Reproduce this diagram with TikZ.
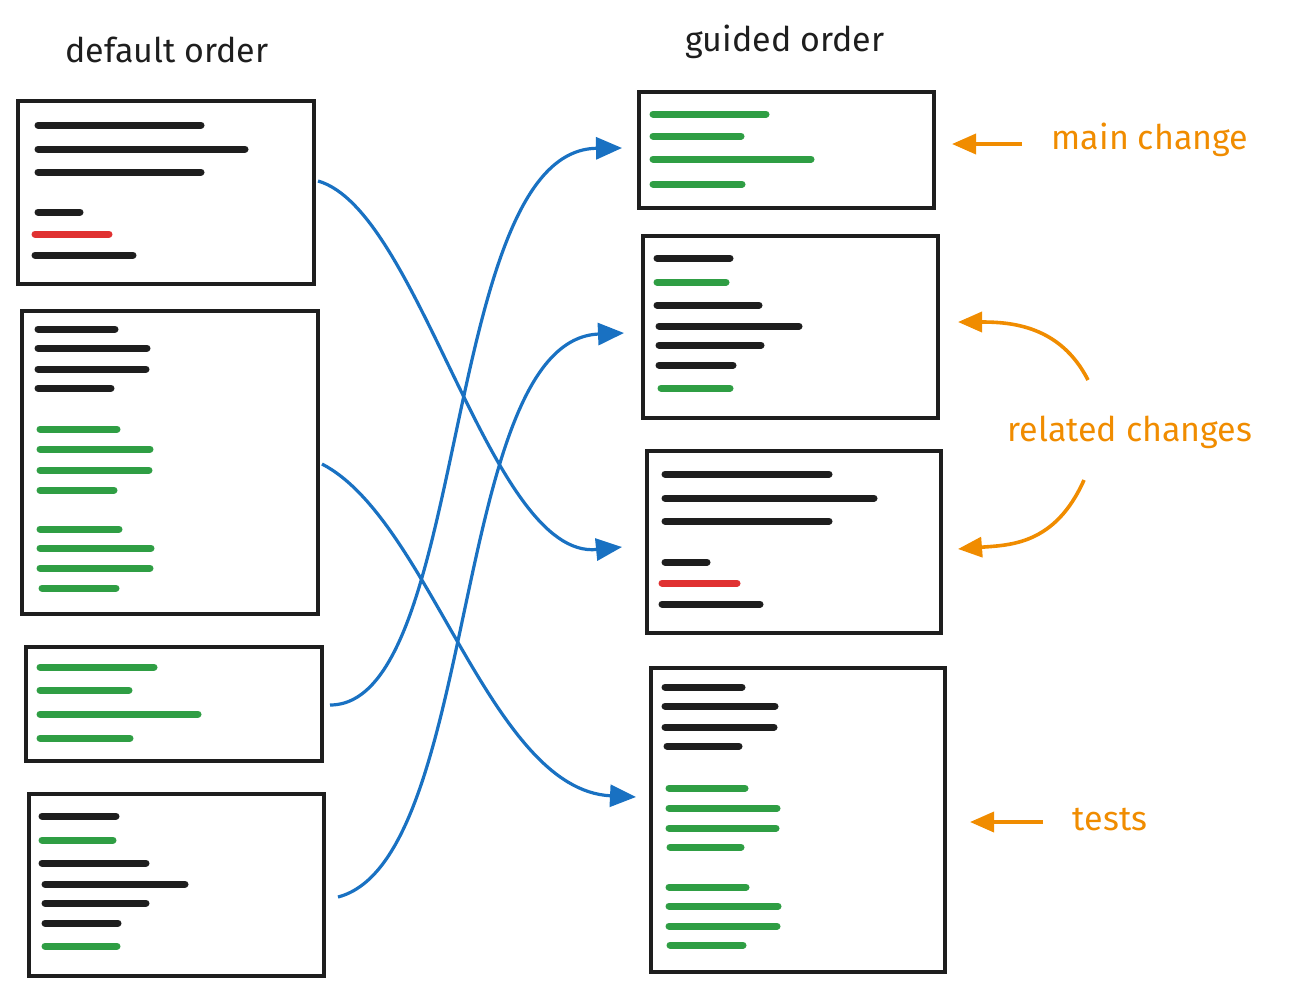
\documentclass[tikz,border=0pt]{standalone}
\usepackage{fontspec}
\setmainfont{Fira Sans}
\usetikzlibrary{arrows.meta}
\definecolor{ink}{HTML}{1E1E1E}
\definecolor{grn}{HTML}{2F9E44}
\definecolor{rd}{HTML}{E03131}
\definecolor{blu}{HTML}{1971C2}
\definecolor{org}{HTML}{F08C00}
\begin{document}
\begin{tikzpicture}[x=1pt,y=-1pt,
 box/.style={draw=ink,line width=3.2pt},
 k/.style={draw=ink,line width=7pt,line cap=round},
 g/.style={draw=grn,line width=7pt,line cap=round},
 r/.style={draw=rd,line width=7pt,line cap=round},
 con/.style={draw=blu,line width=3.2pt,-{Triangle[length=26pt,width=22pt]}},
 oa/.style={draw=org,line width=3.6pt,-{Triangle[length=24pt,width=20pt]}},
 ttl/.style={font=\fontsize{34}{38}\selectfont,text=ink},
 ot/.style={font=\fontsize{34}{38}\selectfont,text=org}]
\useasboundingbox (0,0) rectangle (1303,997);
\node[ttl] (t1) at (167,50) {default order};
\node[ttl] (t2) at (785,42) {guided order};
% left boxes
\draw[box] (18,101) rectangle (314,284);
\draw[k] (38,125)--(201,125); \draw[k] (38,149)--(245,149); \draw[k] (38,172)--(201,172);
\draw[k] (38,212)--(80,212); \draw[r] (35,234)--(109,234); \draw[k] (35,255)--(133,255);
\draw[box] (22,311) rectangle (318,614);
\draw[k] (38,329)--(115,329); \draw[k] (38,348)--(147,348); \draw[k] (38,369)--(146,369); \draw[k] (38,388)--(111,388);
\draw[g] (40,429)--(117,429); \draw[g] (40,449)--(150,449); \draw[g] (40,470)--(149,470); \draw[g] (40,490)--(114,490);
\draw[g] (40,529)--(119,529); \draw[g] (40,548)--(151,548); \draw[g] (40,568)--(150,568); \draw[g] (42,588)--(116,588);
\draw[box] (26,647) rectangle (322,761);
\draw[g] (40,667)--(154,667); \draw[g] (40,690)--(129,690); \draw[g] (40,714)--(198,714); \draw[g] (40,738)--(130,738);
\draw[box] (29,794) rectangle (324,976);
\draw[k] (42,816)--(116,816); \draw[g] (42,840)--(113,840); \draw[k] (42,863)--(146,863); \draw[k] (45,884)--(185,884);
\draw[k] (45,903)--(146,903); \draw[k] (45,923)--(118,923); \draw[g] (45,946)--(117,946);
% right boxes
\draw[box] (639,92) rectangle (934,208);
\draw[g] (653,114)--(766,114); \draw[g] (653,136)--(741,136); \draw[g] (653,159)--(811,159); \draw[g] (653,184)--(742,184);
\draw[box] (643,236) rectangle (938,418);
\draw[k] (657,258)--(730,258); \draw[g] (657,282)--(726,282); \draw[k] (657,305)--(759,305); \draw[k] (659,326)--(799,326);
\draw[k] (659,345)--(761,345); \draw[k] (659,365)--(733,365); \draw[g] (661,388)--(730,388);
\draw[box] (647,451) rectangle (941,633);
\draw[k] (665,474)--(829,474); \draw[k] (665,498)--(874,498); \draw[k] (665,521)--(829,521);
\draw[k] (665,562)--(707,562); \draw[r] (662,583)--(737,583); \draw[k] (662,604)--(760,604);
\draw[box] (651,668) rectangle (945,972);
\draw[k] (665,687)--(742,687); \draw[k] (665,706)--(775,706); \draw[k] (665,727)--(774,727); \draw[k] (667,746)--(739,746);
\draw[g] (669,788)--(745,788); \draw[g] (669,808)--(777,808); \draw[g] (669,828)--(776,828); \draw[g] (670,847)--(741,847);
\draw[g] (669,887)--(746,887); \draw[g] (669,906)--(778,906); \draw[g] (669,926)--(777,926); \draw[g] (670,945)--(743,945);
% connector endpoints
\coordinate (a1s) at (318,181); \coordinate (a1e) at (622,547);
\coordinate (a2s) at (322,464); \coordinate (a2e) at (636,797);
\coordinate (a3s) at (330,705); \coordinate (a3e) at (622,148);
\coordinate (a4s) at (338,897); \coordinate (a4e) at (624,333);
\draw[con] (a1s) .. controls (420,210) and (490,560) .. (a1e);
\draw[con] (a2s) .. controls (430,520) and (490,790) .. (a2e);
\draw[con] (a3s) .. controls (470,705) and (440,150) .. (a3e);
\draw[con] (a4s) .. controls (480,860) and (450,340) .. (a4e);
% orange labels
\node[ot] (mc) at (1150,140) {main change};
\node[ot] (rc) at (1130,432) {related changes};
\node[ot] (ts) at (1110,820) {tests};
\coordinate (o1s) at (1022,144); \coordinate (o1e) at (952,144);
\coordinate (o2s) at (1088,380); \coordinate (o2e) at (958,322);
\coordinate (o3s) at (1084,480); \coordinate (o3e) at (958,549);
\coordinate (o4s) at (1043,822); \coordinate (o4e) at (970,822);
\draw[oa] (o1s) -- (o1e);
\draw[oa] (o2s) .. controls (1060,325) and (1010,322) .. (o2e);
\draw[oa] (o3s) .. controls (1055,545) and (1010,545) .. (o3e);
\draw[oa] (o4s) -- (o4e);
\end{tikzpicture}
\end{document}
